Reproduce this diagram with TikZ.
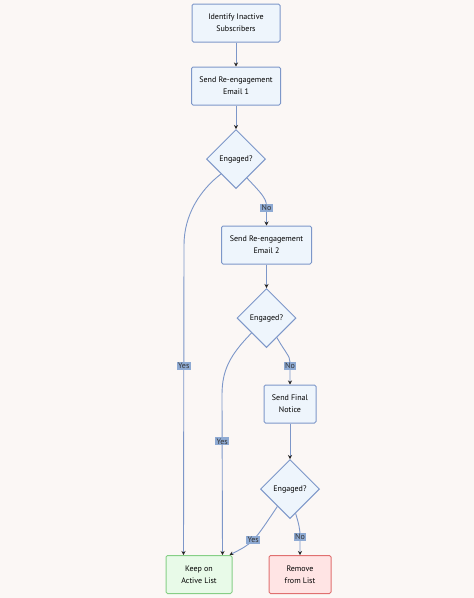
\documentclass[tikz,border=0pt]{standalone}
\usepackage{fontspec}
\setmainfont{PT Sans}
\usepackage{xcolor}
\usetikzlibrary{shapes.geometric}
\usetikzlibrary{arrows.meta}
\definecolor{bgcol}{HTML}{FBF7F5}
\definecolor{boxfill}{HTML}{EEF5FC}
\definecolor{boxline}{HTML}{7D97C9}
\definecolor{lblfill}{HTML}{8EAAD3}
\definecolor{okfill}{HTML}{E8FAE8}
\definecolor{okline}{HTML}{86CF86}
\definecolor{nofill}{HTML}{FFE4E4}
\definecolor{noline}{HTML}{E07070}
\tikzset{
	main node/.style={rectangle,draw=boxline,fill=boxfill,line width=1pt,rounded corners=1.5pt,
		align=center,minimum height=38pt,inner sep=2pt,font=\fontsize{8}{12}\selectfont},
	choice/.style={diamond,draw=boxline,fill=boxfill,line width=1pt,aspect=1,
		minimum size=59pt,inner sep=0pt,font=\fontsize{8}{12}\selectfont},
	keep node/.style={main node,draw=okline,fill=okfill},
	drop node/.style={main node,draw=noline,fill=nofill},
	answer/.style={fill=lblfill,inner sep=1.2pt,font=\fontsize{8}{9}\selectfont,text=black!80},
	flow/.style={draw=boxline,line width=0.9pt}
}

\begin{document}
\begin{tikzpicture}[x=1pt,y=-1pt,->,>={Stealth[length=4pt,width=4pt,black!85]}]
	\fill[bgcol] (0,0) rectangle (474,598);
	% boxes and questions
	\node [main node,minimum width=88pt] (1) at (236,23) {Identify Inactive\\Subscribers};
	\node [main node,minimum width=89pt] (2) at (236,86) {Send Re-engagement\\Email 1};
	\node [choice] (3) at (236,159) {Engaged?};
	\node [main node,minimum width=90pt] (4) at (266.5,245) {Send Re-engagement\\Email 2};
	\node [choice] (5) at (266.5,318) {Engaged?};
	\node [main node,minimum width=52pt] (6) at (290,404) {Send Final\\Notice};
	\node [choice] (7) at (290,489) {Engaged?};
	\node [keep node,minimum width=66pt] (8) at (199,574.5) {Keep on\\Active List};
	\node [drop node,minimum width=62pt] (9) at (300,574.5) {Remove\\from List};
	% arrows
	\draw [flow] (1) -- (2);
	\draw [flow] (2) -- (3);
	\draw [flow] (3.-60) .. controls (260,192) and (266.5,198) .. (266.5,206)
		-- node[answer,pos=0.1] {No} (4.north);
	\draw [flow] (3.south west) .. controls (200,190) and (184,215) .. (184,245)
		-- node[answer,pos=0.39] {Yes} ([xshift=18pt]8.north west);
	\draw [flow] (4) -- (5);
	\draw [flow] (5.-62) .. controls (285,352) and (290,356) .. (290,362)
		-- node[answer,pos=0.17] {No} (6.north);
	\draw [flow] (5.south west) .. controls (230,355) and (222,370) .. (222,395)
		-- node[answer,pos=0.29] {Yes} ([xshift=-10pt]8.north east);
	\draw [flow] (6) -- (7);
	\draw [flow] (7.-126) .. controls (253,543) .. node[answer,pos=0.5] {Yes} ([xshift=-3pt]8.north east);
	\draw [flow] (7.-77) .. controls (299,525) .. (300,533)
		-- node[answer,pos=0.18] {No} (9.north);
\end{tikzpicture}
\end{document}
